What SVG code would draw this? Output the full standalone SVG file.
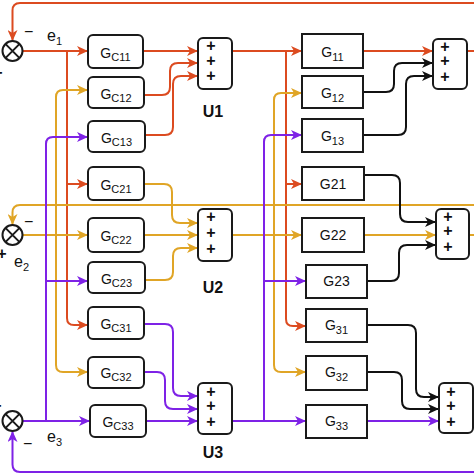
<svg xmlns="http://www.w3.org/2000/svg" width="474" height="474" viewBox="0 0 474 474">
<defs>
<style>
.bx{fill:#fff;stroke:#1a1a1a;stroke-width:2}
.t{font-family:"Liberation Sans",Arial,sans-serif;font-size:14px;fill:#111;text-anchor:middle}
.s{font-size:11px}
.pl{font-family:"Liberation Sans",Arial,sans-serif;font-size:16px;font-weight:bold;fill:#111;text-anchor:middle}
.lb{font-family:"Liberation Sans",Arial,sans-serif;font-size:16px;font-weight:bold;fill:#111;text-anchor:middle}
.e{font-family:"Liberation Sans",Arial,sans-serif;font-size:16px;fill:#111}
.o{fill:none;stroke:#DC4B20;stroke-width:2}
.y{fill:none;stroke:#E0A526;stroke-width:2}
.p{fill:none;stroke:#7E22E6;stroke-width:2}
.k{fill:none;stroke:#111;stroke-width:2}
.ao{marker-end:url(#mo)}
.ay{marker-end:url(#my)}
.ap{marker-end:url(#mp)}
.ak{marker-end:url(#mk)}
</style>
<marker id="mo" markerUnits="userSpaceOnUse" markerWidth="11" markerHeight="10" refX="11" refY="5" orient="auto"><path d="M0,0 L11,5 L0,10 L3,5 Z" fill="#DC4B20"/></marker>
<marker id="my" markerUnits="userSpaceOnUse" markerWidth="11" markerHeight="10" refX="11" refY="5" orient="auto"><path d="M0,0 L11,5 L0,10 L3,5 Z" fill="#E0A526"/></marker>
<marker id="mp" markerUnits="userSpaceOnUse" markerWidth="11" markerHeight="10" refX="11" refY="5" orient="auto"><path d="M0,0 L11,5 L0,10 L3,5 Z" fill="#7E22E6"/></marker>
<marker id="mk" markerUnits="userSpaceOnUse" markerWidth="11" markerHeight="10" refX="11" refY="5" orient="auto"><path d="M0,0 L11,5 L0,10 L3,5 Z" fill="#111"/></marker>
</defs>
<rect width="474" height="474" fill="#fff"/>
<g id="connectors">
<path class="o ao" d="M474,3 H20 Q12.5,3 12.5,10.5 V41"/>
<path class="o ao" d="M22.5,51 H88"/>
<path class="o ao" d="M67,51 V318 Q67,325 74,325 H88"/>
<path class="o ao" d="M67,184 H88"/>
<path class="o ao" d="M143,51 H198"/>
<path class="o ao" d="M144,95 H162 Q170,95 170,87 V71 Q170,63 178,63 H198"/>
<path class="o ao" d="M145,135 H165 Q173,135 173,127 V84 Q173,76 181,76 H198"/>
<path class="o ao" d="M232,51 H302"/>
<path class="o ao" d="M286,51 V319 Q286,326 293,326 H306"/>
<path class="o ao" d="M286,184 H302"/>
<path class="o ao" d="M363,51 H433"/>
<path class="o" d="M467,51 H474"/>
<path class="y ay" d="M474,205 H20 Q12.5,205 12.5,212.5 V225"/>
<path class="y ay" d="M22.5,235 H88"/>
<path class="y ay" d="M56,235 V97 Q56,90 63,90 H88"/>
<path class="y ay" d="M56,235 V365 Q56,372 63,372 H88"/>
<path class="y ay" d="M144,184 H164 Q172,184 172,192 V215 Q172,223 180,223 H198"/>
<path class="y ay" d="M144,235 H198"/>
<path class="y ay" d="M145,280 H165 Q173,280 173,272 V256 Q173,248 181,248 H198"/>
<path class="y ay" d="M232,235 H302"/>
<path class="y ay" d="M274,235 V100 Q274,93 281,93 H302"/>
<path class="y ay" d="M274,235 V365 Q274,372 281,372 H306"/>
<path class="y ay" d="M364,235 H436"/>
<path class="y" d="M469,235 H474"/>
<path class="p ap" d="M474,472 H20 Q12.5,472 12.5,464.5 V431"/>
<path class="p ap" d="M22.5,421 H90"/>
<path class="p ap" d="M46,421 V144 Q46,137 53,137 H88"/>
<path class="p ap" d="M46,281 H88"/>
<path class="p ap" d="M144,324 H165 Q173,324 173,332 V388 Q173,396 181,396 H198"/>
<path class="p ap" d="M144,372 H157 Q165,372 165,380 V401 Q165,409 173,409 H198"/>
<path class="p ap" d="M146,421 H198"/>
<path class="p ap" d="M232,421 H306"/>
<path class="p ap" d="M264,421 V142 Q264,135 271,135 H302"/>
<path class="p ap" d="M264,281 H306"/>
<path class="p ap" d="M367,421 H439"/>
<path class="k ak" d="M363,92 H386 Q394,92 394,84 V71 Q394,63 402,63 H433"/>
<path class="k ak" d="M363,135 H398 Q406,135 406,127 V84 Q406,76 414,76 H433"/>
<path class="k ak" d="M364,175 H392 Q400,175 400,183 V214 Q400,222 408,222 H436"/>
<path class="k ak" d="M367,281 H391 Q399,281 399,273 V253 Q399,245 407,245 H436"/>
<path class="k ak" d="M367,325 H408 Q416,325 416,333 V389 Q416,397 424,397 H439"/>
<path class="k ak" d="M367,372 H394 Q402,372 402,380 V401 Q402,409 410,409 H439"/>
</g>
<g id="sum1">
<circle cx="12.5" cy="51" r="10" class="bx"/>
<path d="M5.4,43.9 L19.6,58.1 M19.6,43.9 L5.4,58.1" stroke="#1a1a1a" stroke-width="2"/>
<text class="e" x="24" y="37">−</text>
<text class="e" x="47" y="41">e<tspan class="s" dy="4">1</tspan></text>
<text class="lb" x="-2" y="78" font-size="18">+</text>
</g>
<g id="sum2">
<circle cx="12.5" cy="235" r="10" class="bx"/>
<path d="M5.4,227.9 L19.6,242.1 M19.6,227.9 L5.4,242.1" stroke="#1a1a1a" stroke-width="2"/>
<text class="e" x="24" y="227">−</text>
<text class="e" x="14" y="267">e<tspan class="s" dy="4">2</tspan></text>
<text class="lb" x="2" y="259" font-size="18">+</text>
</g>
<g id="sum3">
<circle cx="12.5" cy="421" r="10" class="bx"/>
<path d="M5.4,413.9 L19.6,428.1 M19.6,413.9 L5.4,428.1" stroke="#1a1a1a" stroke-width="2"/>
<text class="e" x="23" y="449">−</text>
<text class="e" x="47" y="442">e<tspan class="s" dy="4">3</tspan></text>
<text class="lb" x="-3" y="411" font-size="18">+</text>
</g>
<g id="Gc11"><rect class="bx" x="88" y="35" width="55" height="33" rx="5"/><text class="t" x="115.5" y="58">G<tspan class="s" dy="3">C11</tspan></text></g>
<g id="Gc12"><rect class="bx" x="88" y="77" width="56" height="31" rx="5"/><text class="t" x="116" y="99">G<tspan class="s" dy="3">C12</tspan></text></g>
<g id="Gc13"><rect class="bx" x="88" y="121" width="57" height="31" rx="5"/><text class="t" x="116.5" y="143">G<tspan class="s" dy="3">C13</tspan></text></g>
<g id="Gc21"><rect class="bx" x="88" y="167" width="56" height="33" rx="5"/><text class="t" x="116" y="190">G<tspan class="s" dy="3">C21</tspan></text></g>
<g id="Gc22"><rect class="bx" x="88" y="218" width="56" height="34" rx="5"/><text class="t" x="116" y="241">G<tspan class="s" dy="3">C22</tspan></text></g>
<g id="Gc23"><rect class="bx" x="88" y="262" width="57" height="31" rx="5"/><text class="t" x="116.5" y="284">G<tspan class="s" dy="3">C23</tspan></text></g>
<g id="Gc31"><rect class="bx" x="88" y="307" width="56" height="32" rx="5"/><text class="t" x="116" y="329">G<tspan class="s" dy="3">C31</tspan></text></g>
<g id="Gc32"><rect class="bx" x="88" y="357" width="56" height="31" rx="5"/><text class="t" x="116" y="378">G<tspan class="s" dy="3">C32</tspan></text></g>
<g id="Gc33"><rect class="bx" x="90" y="405" width="56" height="32" rx="5"/><text class="t" x="118" y="427">G<tspan class="s" dy="3">C33</tspan></text></g>
<g id="U1"><rect class="bx" x="198" y="38" width="34" height="51" rx="5"/><text class="pl" x="211" y="51">+</text><text class="pl" x="211" y="66">+</text><text class="pl" x="211" y="81">+</text><text class="lb" x="213" y="117">U1</text></g>
<g id="U2"><rect class="bx" x="198" y="209" width="34" height="52" rx="5"/><text class="pl" x="211" y="222">+</text><text class="pl" x="211" y="238">+</text><text class="pl" x="211" y="254">+</text><text class="lb" x="213" y="293">U2</text></g>
<g id="U3"><rect class="bx" x="198" y="383" width="34" height="51" rx="5"/><text class="pl" x="211" y="397">+</text><text class="pl" x="211" y="411">+</text><text class="pl" x="211" y="427">+</text><text class="lb" x="213" y="458">U3</text></g>
<g id="G11"><rect class="bx" x="302" y="34" width="61" height="34"/><text class="t" x="332.5" y="57">G<tspan class="s" dy="4">11</tspan></text></g>
<g id="G12"><rect class="bx" x="302" y="76" width="61" height="32"/><text class="t" x="332.5" y="98">G<tspan class="s" dy="4">12</tspan></text></g>
<g id="G13"><rect class="bx" x="302" y="119" width="61" height="33"/><text class="t" x="332.5" y="141">G<tspan class="s" dy="4">13</tspan></text></g>
<g id="G21"><rect class="bx" x="302" y="167" width="62" height="33"/><text class="t" x="333" y="189">G21</text></g>
<g id="G22"><rect class="bx" x="302" y="218" width="62" height="34"/><text class="t" x="333" y="240">G22</text></g>
<g id="G23"><rect class="bx" x="306" y="265" width="61" height="33"/><text class="t" x="336.5" y="286">G23</text></g>
<g id="G31"><rect class="bx" x="306" y="309" width="61" height="33"/><text class="t" x="336.5" y="330">G<tspan class="s" dy="4">31</tspan></text></g>
<g id="G32"><rect class="bx" x="306" y="356" width="61" height="34"/><text class="t" x="336.5" y="377">G<tspan class="s" dy="4">32</tspan></text></g>
<g id="G33"><rect class="bx" x="306" y="405" width="61" height="33"/><text class="t" x="336.5" y="426">G<tspan class="s" dy="4">33</tspan></text></g>
<g id="S1"><rect class="bx" x="433" y="39" width="34" height="50" rx="5"/><text class="pl" x="445" y="52">+</text><text class="pl" x="445" y="66">+</text><text class="pl" x="445" y="82">+</text></g>
<g id="S2"><rect class="bx" x="436" y="209" width="33" height="50" rx="5"/><text class="pl" x="448" y="222">+</text><text class="pl" x="448" y="236">+</text><text class="pl" x="448" y="252">+</text></g>
<g id="S3"><rect class="bx" x="439" y="383" width="34" height="50" rx="5"/><text class="pl" x="451" y="397">+</text><text class="pl" x="451" y="411">+</text><text class="pl" x="451" y="427">+</text></g>
</svg>
